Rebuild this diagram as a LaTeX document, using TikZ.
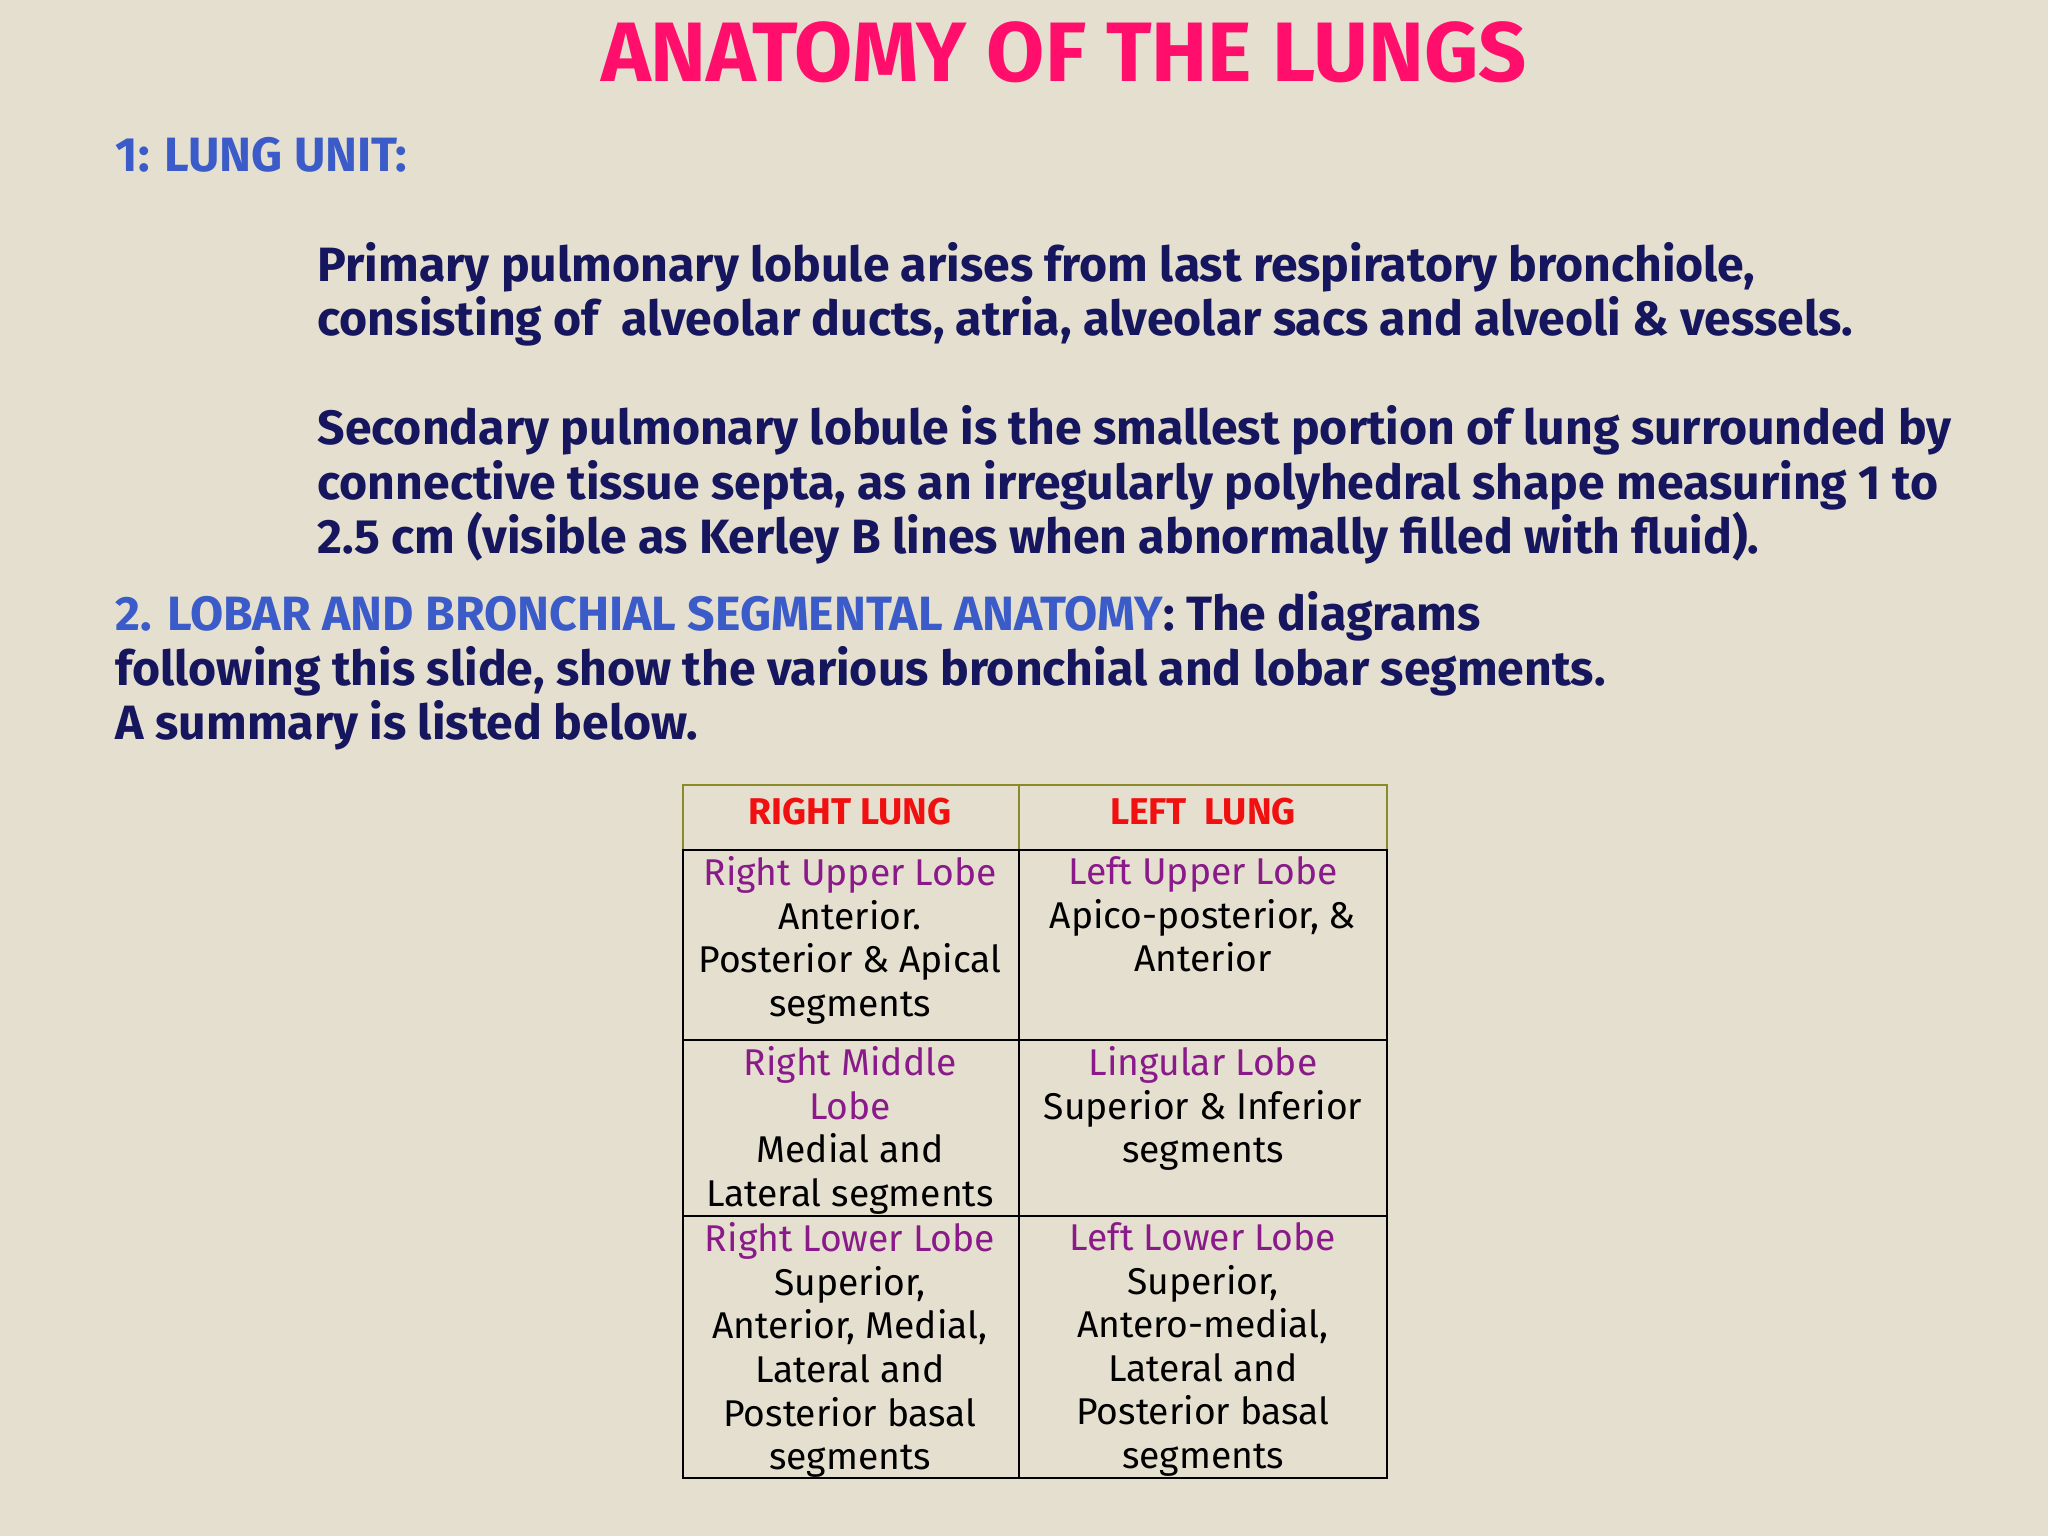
\documentclass[tikz,border=0pt]{standalone}
\usepackage{fontspec}
\setmainfont{Fira Sans}
\usetikzlibrary{positioning}
\definecolor{slidebg}{HTML}{E4DFCF}
\definecolor{titlepink}{HTML}{FF0F6B}
\definecolor{headblue}{HTML}{3A5BC8}
\definecolor{bodynavy}{HTML}{16165E}
\definecolor{lobepurple}{HTML}{8A1A8A}
\definecolor{headred}{HTML}{F01010}
\definecolor{rulegreen}{HTML}{8A8A2A}
\begin{document}
\begin{tikzpicture}[
	bodyline/.style={anchor=base west, inner sep=0pt, font=\bfseries\fontsize{13.7}{17}\selectfont, text=bodynavy},
	cell/.style={anchor=north, inner sep=0pt, align=center, font=\fontsize{10.6}{12.4}\selectfont}]
	\fill[slidebg] (0,0) rectangle (20.48,15.36);
	\useasboundingbox (0,0) rectangle (20.48,15.36);
	% heading
	\node[font=\bfseries\fontsize{24}{28}\selectfont, text=titlepink] (title) at (10.64,14.84) {ANATOMY OF THE LUNGS};
	\node[bodyline, text=headblue] (unit) at (1.15,13.64) {1: LUNG UNIT:};
	% lung unit paragraphs
	\node[bodyline] (p1a) at (3.17,12.54) {Primary pulmonary lobule arises from last respiratory bronchiole,};
	\node[bodyline] (p1b) at (3.17,12.00) {consisting of \ alveolar ducts, atria, alveolar sacs and alveoli \& vessels.};
	\node[bodyline] (p2a) at (3.17,10.91) {Secondary pulmonary lobule is the smallest portion of lung surrounded by};
	\node[bodyline] (p2b) at (3.17,10.36) {connective tissue septa, as an irregularly polyhedral shape measuring 1 to};
	\node[bodyline] (p2c) at (3.17,9.82) {2.5 cm (visible as Kerley B lines when abnormally filled with fluid).};
	% section 2
	\node[bodyline] (s2a) at (1.15,9.05) {\textcolor{headblue}{2. LOBAR AND BRONCHIAL SEGMENTAL ANATOMY}: The diagrams};
	\node[bodyline] (s2b) at (1.15,8.50) {following this slide, show the various bronchial and lobar segments.};
	\node[bodyline] (s2c) at (1.15,7.96) {A summary is listed below.};
	% table
	\draw[rulegreen] (6.83,7.51) rectangle (13.87,6.86);
	\draw[rulegreen] (10.19,7.51) -- (10.19,6.86);
	\draw[black] (6.83,6.86) rectangle (13.87,0.58);
	\draw[black] (10.19,6.86) -- (10.19,0.58);
	\draw[black] (6.83,4.96) -- (13.87,4.96);
	\draw[black] (6.83,3.20) -- (13.87,3.20);
	\node[font=\bfseries\fontsize{10.6}{12.4}\selectfont, text=headred] (rhead) at (8.50,7.24) {RIGHT LUNG};
	\node[font=\bfseries\fontsize{10.6}{12.4}\selectfont, text=headred] (lhead) at (12.03,7.24) {LEFT \ LUNG};
	\node[cell] (rul) at (8.50,6.80) {\textcolor{lobepurple}{Right Upper Lobe}\\Anterior.\\Posterior \& Apical\\segments};
	\node[cell] (lul) at (12.03,6.80) {\textcolor{lobepurple}{Left Upper Lobe}\\Apico-posterior, \&\\Anterior};
	\node[cell] (rml) at (8.50,4.90) {\textcolor{lobepurple}{Right Middle}\\\textcolor{lobepurple}{Lobe}\\Medial and\\Lateral segments};
	\node[cell] (lin) at (12.03,4.90) {\textcolor{lobepurple}{Lingular Lobe}\\Superior \& Inferior\\segments};
	\node[cell] (rll) at (8.50,3.14) {\textcolor{lobepurple}{Right Lower Lobe}\\Superior,\\Anterior, Medial,\\Lateral and\\Posterior basal\\segments};
	\node[cell] (lll) at (12.03,3.14) {\textcolor{lobepurple}{Left Lower Lobe}\\Superior,\\Antero-medial,\\Lateral and\\Posterior basal\\segments};
\end{tikzpicture}
\end{document}
